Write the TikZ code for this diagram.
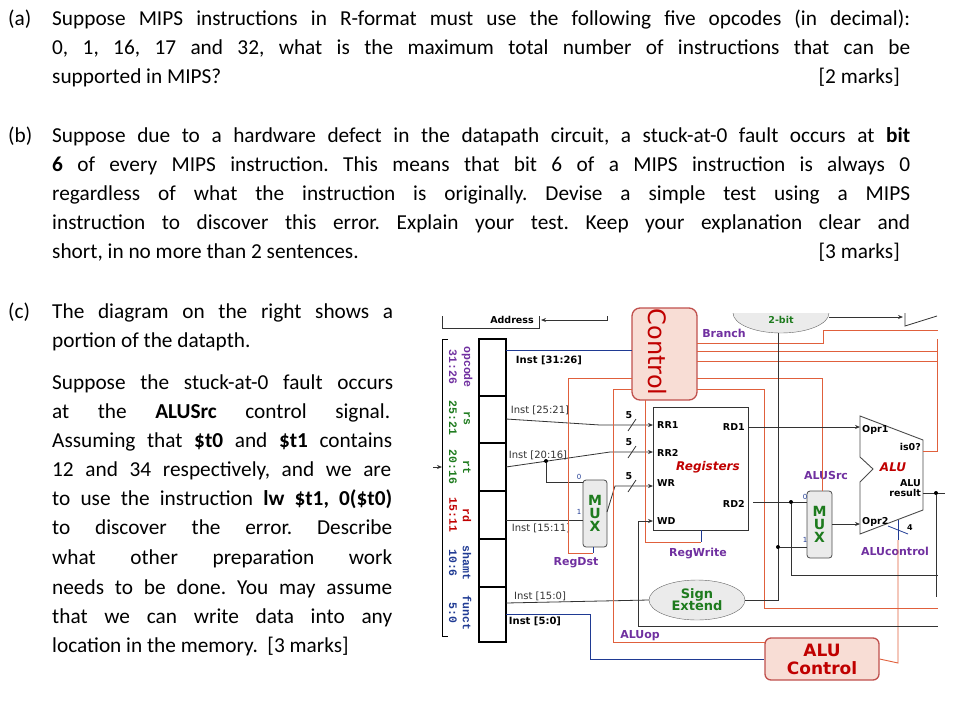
\documentclass[tikz,border=0pt]{standalone}
\usepackage{fontspec}
\setmainfont{Carlito}
\newfontfamily\dv{DejaVu Sans}
\newfontfamily\mono{Liberation Mono}
\usetikzlibrary{shapes.geometric,arrows.meta}
\definecolor{pur}{HTML}{7030A0}
\definecolor{grn}{HTML}{1E7B1E}
\definecolor{rd}{HTML}{C00000}
\definecolor{nv}{HTML}{1F3A93}
\definecolor{cl}{HTML}{E0603C}
\definecolor{bx}{HTML}{F8DDD5}
\definecolor{bb}{HTML}{C0504D}
\newcommand{\jl}[4]{\node[anchor=base west,inner sep=0] at (#1,#2) {\makebox[#3pt][s]{#4}};}
\newcommand{\pl}[3]{\node[anchor=base west,inner sep=0] at (#1,#2) {#3};}
\begin{document}
\frenchspacing
\begin{tikzpicture}[x=1pt,y=-1pt,
  lbl/.style={font=\dv\bfseries\fontsize{9.5}{10}\selectfont,inner sep=0},
  ctl/.style={cl,line width=0.9pt},
  blk/.style={black!80,line width=0.8pt},
  nav/.style={nv,line width=1pt},
  arr/.style={-{Stealth[length=5pt,width=4pt]}},
  dot/.style={circle,fill=black,inner sep=0,minimum size=4pt},
  mux/.style={draw=black!70,fill=black!8,rounded corners=3pt,line width=0.8pt},
  ctlbox/.style={draw=bb,fill=bx,rounded corners=8pt,line width=1.3pt}]
\useasboundingbox (0,0) rectangle (967,702);
\fontsize{21.3}{24}\selectfont
% (a)
\pl{8}{25}{(a)}
\jl{52}{25}{858}{Suppose MIPS instructions in R-format must use the following five opcodes (in decimal):}
\jl{52}{54}{858}{0, 1, 16, 17 and 32, what is the maximum total number of instructions that can be}
\pl{52}{83}{supported in MIPS?}
\node[anchor=base east,inner sep=0] at (900,83) {[2 marks]};
% (b)
\pl{8}{142}{(b)}
\jl{52}{142}{858}{Suppose due to a hardware defect in the datapath circuit, a stuck-at-0 fault occurs at \textbf{bit}}
\jl{52}{171}{858}{\textbf{6} of every MIPS instruction. This means that bit 6 of a MIPS instruction is always 0}
\jl{52}{200}{858}{regardless of what the instruction is originally. Devise a simple test using a MIPS}
\jl{52}{229}{858}{instruction to discover this error. Explain your test. Keep your explanation clear and}
\pl{52}{258}{short, in no more than 2 sentences.}
\node[anchor=base east,inner sep=0] at (900,258) {[3 marks]};
% (c)
\pl{8}{318}{(c)}
\jl{52}{318}{341}{The diagram on the right shows a}
\pl{52}{347}{portion of the datapth.}
\jl{52}{389}{341}{Suppose the stuck-at-0 fault occurs}
\jl{52}{418}{338}{at the \textbf{ALUSrc} control signal.}
\jl{52}{447}{340}{Assuming that \textbf{\$t0} and \textbf{\$t1} contains}
\jl{52}{476}{339}{12 and 34 respectively, and we are}
\jl{52}{505}{340}{to use the instruction \textbf{lw \$t1, 0(\$t0)}}
\jl{52}{534}{340}{to discover the error. Describe}
\jl{52}{564}{340}{what other preparation work}
\jl{52}{594}{340}{needs to be done. You may assume}
\jl{52}{623}{340}{that we can write data into any}
\pl{52}{652}{location in the memory. \ [3 marks]}

% ===== datapath =====
% address box
\draw[blk] (442,316) -- (442,328) -- (539,328) -- (539,316);
\coordinate (adrsrc) at (607,316);
\node[lbl] (addr) at (512,320) {Address};
\draw[blk,arr] (adrsrc) -- (607,320) -- (541,320);
% instruction register
\draw[line width=1.5pt] (479,339) rectangle (506,642);
\foreach \y in {396,443,491,539,587} \draw[line width=1.5pt] (479,\y) -- (506,\y);
\draw[line width=0.8pt] (448,339) -- (442,339) -- (442,636) -- (448,636);
\coordinate (brin) at (433,467);
\draw[blk,arr] (brin) -- (442,467);
\begin{scope}[every node/.style={rotate=-90,font=\mono\bfseries\fontsize{11.5}{12}\selectfont,inner sep=0}]
\node[pur] at (467,367) {opcode}; \node[pur] at (453,367) {31:26};
\node[grn] at (467,418) {rs};     \node[grn] at (453,418) {25:21};
\node[grn] at (467,467) {rt};     \node[grn] at (453,467) {20:16};
\node[rd]  at (467,515) {rd};     \node[rd]  at (453,515) {15:11};
\node[nv]  at (467,563) {shamt};  \node[nv]  at (453,563) {10:6};
\node[nv]  at (467,613) {funct};  \node[nv]  at (453,613) {5:0};
\end{scope}
% control
\node[ctlbox,minimum width=65pt,minimum height=92pt] (ctrl) at (664.5,354) {};
\node[rd,rotate=-90,font=\dv\fontsize{24}{24}\selectfont] at (657,352) {Control};
% registers
\draw[black!80,line width=1pt] (653,407) rectangle (748,530);
\node[lbl,anchor=west] (rr1) at (657,425) {RR1};
\node[lbl,anchor=west] (rr2) at (657,453) {RR2};
\node[lbl,anchor=west] (wr) at (657,483) {WR};
\node[lbl,anchor=west] (wd) at (657,521) {WD};
\node[lbl,anchor=east] (rd1) at (745,427) {RD1};
\node[lbl,anchor=east] (rd2) at (745,504) {RD2};
\node[lbl,rd,font=\dv\bfseries\itshape\fontsize{12}{12}\selectfont] at (708,467) {Registers};
% RegDst mux
\node[mux,minimum width=24pt,minimum height=67pt] (mux1) at (595,513.5) {};
\node[grn,font=\dv\bfseries\fontsize{14}{16}\selectfont,align=center,inner sep=0] at (595,513.5) {M\\[-3pt]U\\[-3pt]X};
\node[nv,font=\dv\fontsize{7}{7}\selectfont,inner sep=0] at (579,477) {0};
\node[nv,font=\dv\fontsize{7}{7}\selectfont,inner sep=0] at (579,512) {1};
\node[lbl,pur,font=\dv\bfseries\fontsize{11}{11}\selectfont] (regdst) at (576,563) {RegDst};
% ALUSrc mux
\node[mux,minimum width=25pt,minimum height=67pt] (mux2) at (819.5,524.5) {};
\node[grn,font=\dv\bfseries\fontsize{14}{16}\selectfont,align=center,inner sep=0] at (819.5,524.5) {M\\[-3pt]U\\[-3pt]X};
\node[nv,font=\dv\fontsize{7}{7}\selectfont,inner sep=0] at (805,497) {0};
\node[nv,font=\dv\fontsize{7}{7}\selectfont,inner sep=0] at (805,540) {1};
\node[lbl,pur,font=\dv\bfseries\fontsize{11}{11}\selectfont] (alusrc) at (826,475) {ALUSrc};
% sign extend
\node[ellipse,draw=black!60,fill=black!8,minimum width=96pt,minimum height=40pt,inner sep=0] (se) at (697,600) {};
\node[grn,font=\dv\bfseries\fontsize{13}{14}\selectfont,align=center] at (697,600) {Sign\\[-2pt]Extend};
% 2-bit ellipse (cut)
\begin{scope}
\clip (700,313) rectangle (850,340);
\node[ellipse,draw=black!60,fill=black!8,minimum width=96pt,minimum height=40pt] (sh) at (781,313) {};
\end{scope}
\node[grn,lbl] at (781,320) {2-bit};
% ALU
\draw[black!70,line width=0.9pt,fill=white] (860,416) -- (923,440) -- (923,510) -- (860,534) -- (860,482) -- (873,469) -- (860,457) -- cycle;
\node[lbl,anchor=west] (opr1) at (862,430) {Opr1};
\node[lbl,anchor=west] (opr2) at (862,522) {Opr2};
\node[lbl,anchor=east] (is0) at (921,447) {is0?};
\node[lbl,anchor=east,align=right] (res) at (921,488) {ALU\\result};
\node[rd,font=\dv\bfseries\itshape\fontsize{12}{12}\selectfont] at (893,467) {ALU};
\node[lbl,pur,font=\dv\bfseries\fontsize{11}{11}\selectfont] (aluc) at (895,551) {ALUcontrol};
% ALU control box
\node[ctlbox,rounded corners=6pt,minimum width=114pt,minimum height=42pt] (aluctl) at (822,659) {};
\node[rd,font=\dv\bfseries\fontsize{17}{20}\selectfont,align=center] at (822,659) {ALU\\[-2pt]Control};

% ===== wires =====
\draw[nav] (506,350) -- (632,350);
\node[lbl,font=\dv\bfseries\fontsize{10}{10}\selectfont] at (549,360) {Inst [31:26]};
\draw[blk,arr] (506,419) -- (600,425) -- (653,425);
\node[lbl,font=\dv\fontsize{10}{10}\selectfont,black!80] at (540,410) {Inst [25:21]};
\draw[blk,arr] (506,467) -- (610,452) -- (653,452);
\node[lbl,font=\dv\fontsize{10}{10}\selectfont,black!80] at (538,455) {Inst [20:16]};
\node[dot] (d1) at (546,461) {};
\draw[blk] (d1) -- (546,482) -- (583,482);
\draw[blk] (506,520) -- (583,520);
\node[lbl,font=\dv\fontsize{10}{10}\selectfont,black!80] at (541,528) {Inst [15:11]};
\draw[blk,arr] (607,512) -- (615,486) -- (653,486);
% bus slashes
\foreach \y in {425,452,486} {
  \draw[blk] (628,\y+6) -- (636,\y-6);
  \node[lbl] at (629,\y-10) {5};
}
\draw[blk] (506,603) -- (se.west);
\node[lbl,font=\dv\fontsize{10}{10}\selectfont,black!80] at (540,596) {Inst [15:0]};
\draw[nav] (506,614) -- (590,614) -- (590,659) -- (aluctl.west);
\node[lbl,font=\dv\bfseries\fontsize{10}{10}\selectfont] at (535,621) {Inst [5:0]};
% control lines
\draw[ctl] (632,378) -- (568,378) -- (568,553) -- (593,553);
\draw[nv,line width=1pt] (593,553) -- (593,547);
\draw[ctl] (632,389) -- (613,389) -- (613,642) -- (765,642);
\node[lbl,pur,font=\dv\bfseries\fontsize{11}{11}\selectfont] at (640,636) {ALUop};
\draw[ctl] (645,400) -- (645,542) -- (701,542);
\draw[nv,line width=1pt] (701,530) -- (701,542);
\node[lbl,pur,font=\dv\bfseries\fontsize{11}{11}\selectfont] (regw) at (698,553) {RegWrite};
\draw[ctl] (697,378) -- (822,378) -- (822,491);
\draw[ctl] (697,389) -- (764,389) -- (764,608) -- (938,608);
\draw[ctl] (697,343) -- (823,343) -- (823,330) -- (938,330);
\node[lbl,pur,font=\dv\bfseries\fontsize{11}{11}\selectfont] at (724,333) {Branch};
\draw[ctl] (697,351) -- (938,351);
\draw[ctl] (697,361) -- (938,361);
\draw[ctl] (923,451) -- (937,451) -- (937,339);
\draw[ctl] (aluctl.east) -- (898,663) -- (898,540);
\draw[nv,line width=1pt] (898,540) -- (898,520);
\draw[nv,line width=0.8pt] (888,526) -- (908,534);
\node[lbl,font=\dv\bfseries\fontsize{8}{8}\selectfont] at (910,528) {4};
% data lines
\draw[blk,arr] (748,427) -- (860,427);
\draw[blk] (753,502) -- (807,502);
\node[dot] (d2) at (791,502) {};
\draw[blk] (d2) -- (791,575) -- (938,575);
\draw[blk] (778,333) -- (778,600) -- (se.east);
\node[dot] (d3) at (778,547) {};
\draw[blk] (d3) -- (807,547);
\draw[blk,arr] (832,524) -- (860,524);
\draw[blk,arr] (638,626) -- (638,521) -- (653,521);
\draw[blk] (638,626) -- (938,626);
\draw[blk] (923,493) -- (945,493);
\node[dot] (d4) at (936,493) {};
\draw[blk] (d4) -- (936,597);
% top adder
\draw[blk,arr] (829,317) -- (903,317);
\draw[blk] (905,313) -- (905,326) -- (937,316);
\end{tikzpicture}
\end{document}
